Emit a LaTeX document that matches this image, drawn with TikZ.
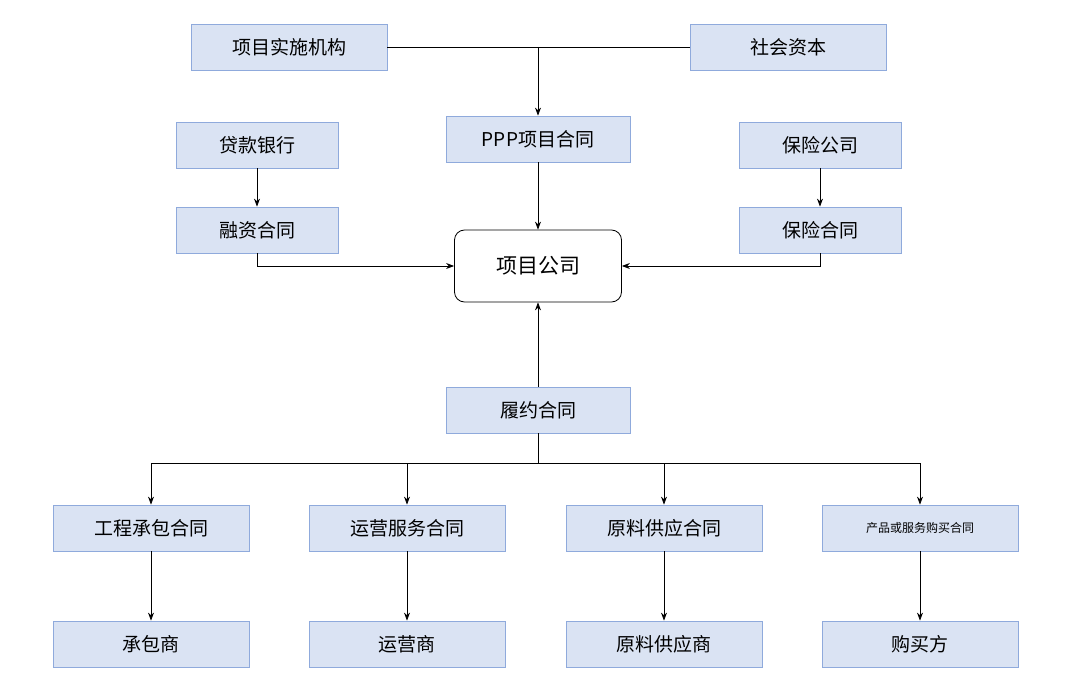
\documentclass[tikz,border=0pt]{standalone}
\usepackage{fontspec}
\setmainfont{Noto Sans CJK SC}
\usetikzlibrary{positioning, arrows.meta}
\definecolor{boxfill}{RGB}{218, 227, 243}
\definecolor{boxline}{RGB}{143, 170, 220}
\tikzset{
    ctbox/.style={rectangle, draw=boxline, fill=boxfill, thick, minimum width=196pt, minimum height=46pt, font=\fontsize{19}{22}\selectfont},
    orgbox/.style={ctbox, minimum width=162pt},
    corebox/.style={rectangle, rounded corners=10pt, draw, thick, minimum width=167pt, minimum height=72pt, font=\fontsize{21}{24}\selectfont},
    link/.style={thick, -{Stealth[length=8pt, width=6pt]}}
}
\begin{document}
\begin{tikzpicture}[x=1pt, y=-1pt]
                    \useasboundingbox (0,0) rectangle (1080,693);
                    \node[ctbox] (agency) at (289,47) {项目实施机构};
                    \node[ctbox] (capital) at (788,47) {社会资本};
                    \node[ctbox, minimum width=184pt] (ppp) at (538,139) {PPP项目合同};
                    \node[orgbox] (bank) at (257,145) {贷款银行};
                    \node[orgbox] (loan) at (257,230) {融资合同};
                    \node[orgbox] (insurer) at (820,145) {保险公司};
                    \node[orgbox] (insure) at (820,230) {保险合同};
                    \node[corebox] (spv) at (538,266) {项目公司};
                    \node[ctbox, minimum width=184pt] (perf) at (538,410) {履约合同};
                    \node[ctbox] (c1) at (151,528) {工程承包合同};
                    \node[ctbox] (c2) at (407,528) {运营服务合同};
                    \node[ctbox] (c3) at (664,528) {原料供应合同};
                    \node[ctbox, font=\fontsize{12}{14}\selectfont] (c4) at (920,528) {产品或服务购买合同};
                    \node[ctbox] (p1) at (151,644) {承包商};
                    \node[ctbox] (p2) at (407,644) {运营商};
                    \node[ctbox] (p3) at (664,644) {原料供应商};
                    \node[ctbox] (p4) at (920,644) {购买方};
                    \coordinate (top) at (538,47);
                    \coordinate (fork) at (538,463);
                    
                    \draw[thick] (agency) -- (capital);
                    \draw[link] (top) -- (ppp);
                    \draw[link] (ppp) -- (spv);
                    \draw[link] (bank) -- (loan);
                    \draw[link] (insurer) -- (insure);
                    \draw[link] (loan.south) |- (spv.west);
                    \draw[link] (insure.south) |- (spv.east);
                    \draw[link] (perf) -- (spv);
                    \draw[thick] (perf) -- (fork);
                    \foreach \i in {1,2,3,4} {
                        \draw[link] (fork) -| (c\i.north);
                        \draw[link] (c\i) -- (p\i);
                    }
                \end{tikzpicture}
\end{document}
